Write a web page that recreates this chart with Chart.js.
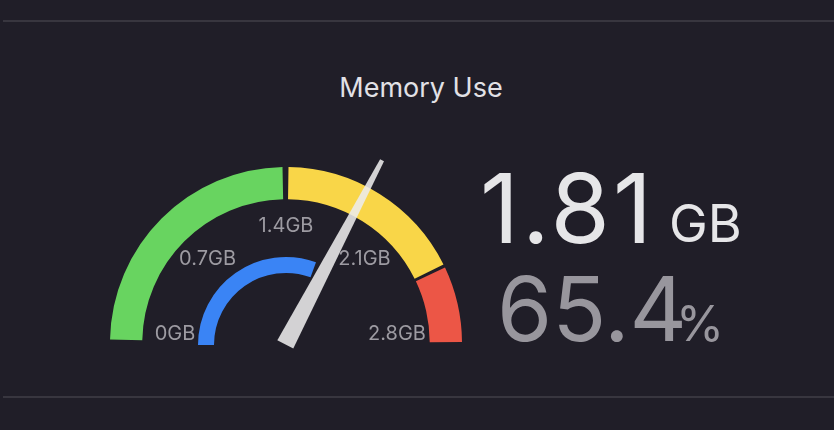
<!DOCTYPE html>
<html>
<head>
<meta charset="utf-8">
<script src="https://cdn.jsdelivr.net/npm/chart.js@4/dist/chart.umd.min.js"></script>
<style>
html, body { margin: 0; padding: 0; width: 834px; height: 430px; overflow: hidden; background: #201e28; font-family: Inter, "Liberation Sans", sans-serif; }
.rule { position: absolute; left: 3px; right: 0; height: 2px; background: #38363f; }
#title { position: absolute; left: 0; width: 842px; top: 74px; text-align: center; color: #e2e1e6; font-size: 27px; line-height: 1; }
.big { position: absolute; white-space: nowrap; line-height: 1; }
#wrap { position: absolute; left: 0; top: 0; width: 834px; height: 430px; }
</style>
</head>
<body>
<div class="rule" style="top:20px"></div>
<div class="rule" style="top:396px"></div>
<div id="title">Memory Use</div>
<div class="big" id="usedNum" style="left:480px;top:160px;font-size:96px;letter-spacing:3px;color:#e6e6e8"></div>
<div class="big" id="usedUnit" style="left:669px;top:198px;font-size:52px;color:#e6e6e8"></div>
<div class="big" id="pctNum" style="left:497px;top:264px;font-size:89px;color:#98969d"></div>
<div class="big" id="pctUnit" style="left:676px;top:299px;font-size:49px;color:#98969d"></div>
<div id="wrap"><canvas id="gauge"></canvas></div>
<script>
// gauge zones (GB)
var zoneNames = ['Normal', 'Warning', 'Critical'];
var zoneValues = [1.4, 1.0, 0.4];
var zoneColors = ['#68d460', '#f9d648', '#ec5646'];

// tick labels round the dial
var tickValues = [0, 0.7, 1.4, 2.1, 2.8];
var tickLabels = ['0GB', '0.7GB', '1.4GB', '2.1GB', '2.8GB'];

var maxGB = 2.8;
var usedGB = 1.81;
var usedPercent = 65.4;
var appGB = 1.71; // inner blue ring

document.getElementById('usedNum').textContent = usedGB.toFixed(2);
document.getElementById('usedUnit').textContent = 'GB';
document.getElementById('pctNum').textContent = usedPercent.toFixed(1);
document.getElementById('pctUnit').textContent = '%';

function valueAngle(meta, v) {
    var first = meta.data[0];
    var last = meta.data[meta.data.length - 1];
    return first.startAngle + (v / maxGB) * (last.endAngle - first.startAngle);
}

var dialPlugin = {
    id: 'dial',
    afterDatasetsDraw: function(chart) {
        var ctx = chart.ctx;
        var meta = chart.getDatasetMeta(0);
        var cx = meta.data[0].x;
        var cy = meta.data[0].y;

        // tick labels
        ctx.save();
        ctx.font = '20px Inter, "Liberation Sans", sans-serif';
        ctx.fillStyle = '#9d9ba2';
        ctx.textAlign = 'center';
        ctx.textBaseline = 'middle';
        tickValues.forEach(function(v, i) {
            var a = valueAngle(meta, v);
            var r = 111;
            var dy = (i === 0 || i === tickValues.length - 1) ? -9 : -6;
            ctx.fillText(tickLabels[i], cx + Math.cos(a) * r, cy + Math.sin(a) * r + dy);
        });
        ctx.restore();

        // needle
        var a = valueAngle(meta, maxGB * usedPercent / 100);
        var dx = Math.cos(a), dy2 = Math.sin(a);
        var nx = -dy2, ny = dx;
        var bx = cx - dx * 1.5, by = cy - dy2 * 1.5;
        var len = 208;
        ctx.save();
        ctx.fillStyle = 'rgba(236,236,236,0.88)';
        ctx.beginPath();
        ctx.moveTo(bx + nx * 9, by + ny * 9);
        ctx.lineTo(bx + dx * len + nx * 2.2, by + dy2 * len + ny * 2.2);
        ctx.lineTo(bx + dx * len - nx * 2.2, by + dy2 * len - ny * 2.2);
        ctx.lineTo(bx - nx * 9, by - ny * 9);
        ctx.closePath();
        ctx.fill();
        ctx.restore();
    }
};

var ctx = document.getElementById('gauge').getContext('2d');
var chart = new Chart(ctx, {
    type: 'doughnut',
    data: {
        labels: zoneNames,
        datasets: [{
            data: zoneValues,
            backgroundColor: zoneColors,
            borderWidth: 0,
            weight: 33
        }, {
            // empty band between the rings
            data: [maxGB],
            backgroundColor: ['rgba(0,0,0,0)'],
            borderWidth: 0,
            weight: 55
        }, {
            data: [appGB, maxGB - appGB],
            backgroundColor: ['#3a84f5', 'rgba(0,0,0,0)'],
            borderWidth: 0,
            spacing: 0,
            weight: 16
        }]
    },
    options: {
        responsive: true,
        maintainAspectRatio: false,
        animation: false,
        events: [],
        rotation: -90,
        circumference: 180,
        cutout: '40.91%',
        spacing: 8,
        layout: { padding: { left: 110, right: 372, top: 167, bottom: 83 } },
        plugins: { legend: { display: false }, tooltip: { enabled: false } }
    },
    plugins: [dialPlugin]
});
</script>
</body>
</html>
